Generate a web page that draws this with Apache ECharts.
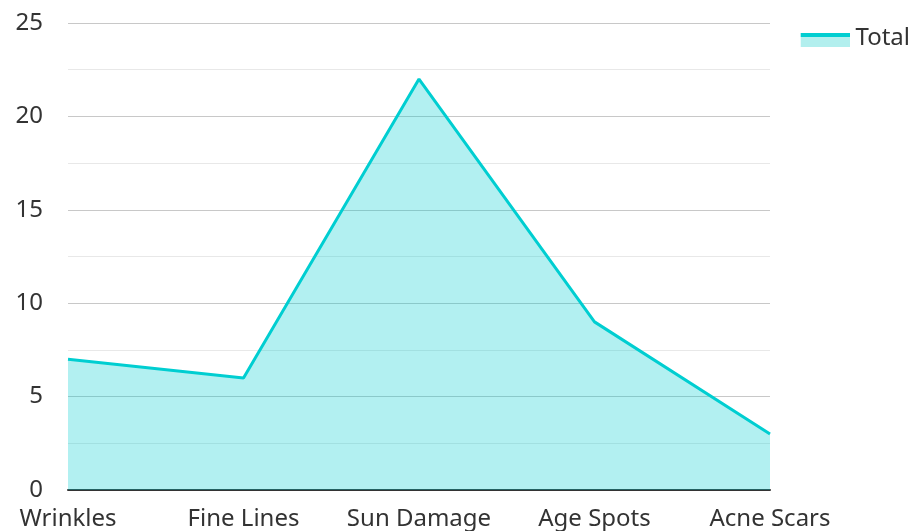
<!DOCTYPE html>
<html>
<head>
<meta charset="utf-8">
<script src="https://cdn.jsdelivr.net/npm/echarts@6/dist/echarts.min.js"></script>
<style>html,body{margin:0;padding:0;background:#fff}#c{width:911px;height:531px}</style>
</head>
<body>
<div id="c"></div>
<script>
const categories = ['Wrinkles', 'Fine Lines', 'Sun Damage', 'Age Spots', 'Acne Scars'];
const totalValues = [7, 6, 22, 9, 3];
const seriesName = 'Total';

const iconSvg = '<svg xmlns="http://www.w3.org/2000/svg" width="50" height="18"><rect x="0" y="4" width="50" height="14" fill="#b2efee"/><rect x="0" y="4" width="50" height="4" fill="#00ced1"/></svg>';
const iconUri = 'image://data:image/svg+xml;charset=utf-8,' + encodeURIComponent(iconSvg);

const chart = echarts.init(document.getElementById('c'));
chart.setOption({
  animation: false,
  textStyle: { fontFamily: 'Noto Sans' },
  grid: { left: 68, right: 141, top: 23, bottom: 41, containLabel: false },
  legend: {
    right: 1, top: 26, padding: 0,
    itemWidth: 50, itemHeight: 18, itemGap: 10,
    icon: iconUri,
    textStyle: { fontSize: 24, color: '#333', fontFamily: 'Noto Sans' },
    data: [{ name: seriesName, icon: iconUri }]
  },
  xAxis: {
    type: 'category',
    data: categories,
    boundaryGap: false,
    axisLine: { lineStyle: { color: '#333', width: 2 } },
    axisTick: { show: false },
    axisLabel: { fontSize: 24, color: '#333', margin: 17, interval: 0 }
  },
  yAxis: {
    type: 'value',
    min: 0, max: 25, interval: 5,
    axisLine: { show: false },
    axisTick: { show: false },
    axisLabel: { fontSize: 24, color: '#333', margin: 25, verticalAlign: 'middle', lineHeight: 24, padding: [5, 0, 0, 0] },
    splitLine: { lineStyle: { color: '#c8c8c8', width: 1 } },
    minorTick: { show: false, splitNumber: 2 },
    minorSplitLine: { show: true, lineStyle: { color: '#e8e8e8', width: 1 } }
  },
  series: [{
    name: seriesName,
    type: 'line',
    data: totalValues,
    showSymbol: false,
    symbol: 'none',
    lineStyle: { color: '#00ced1', width: 3 },
    itemStyle: { color: '#00ced1' },
    areaStyle: { color: '#00ced1', opacity: 0.3 }
  }]
});
</script>
</body>
</html>
